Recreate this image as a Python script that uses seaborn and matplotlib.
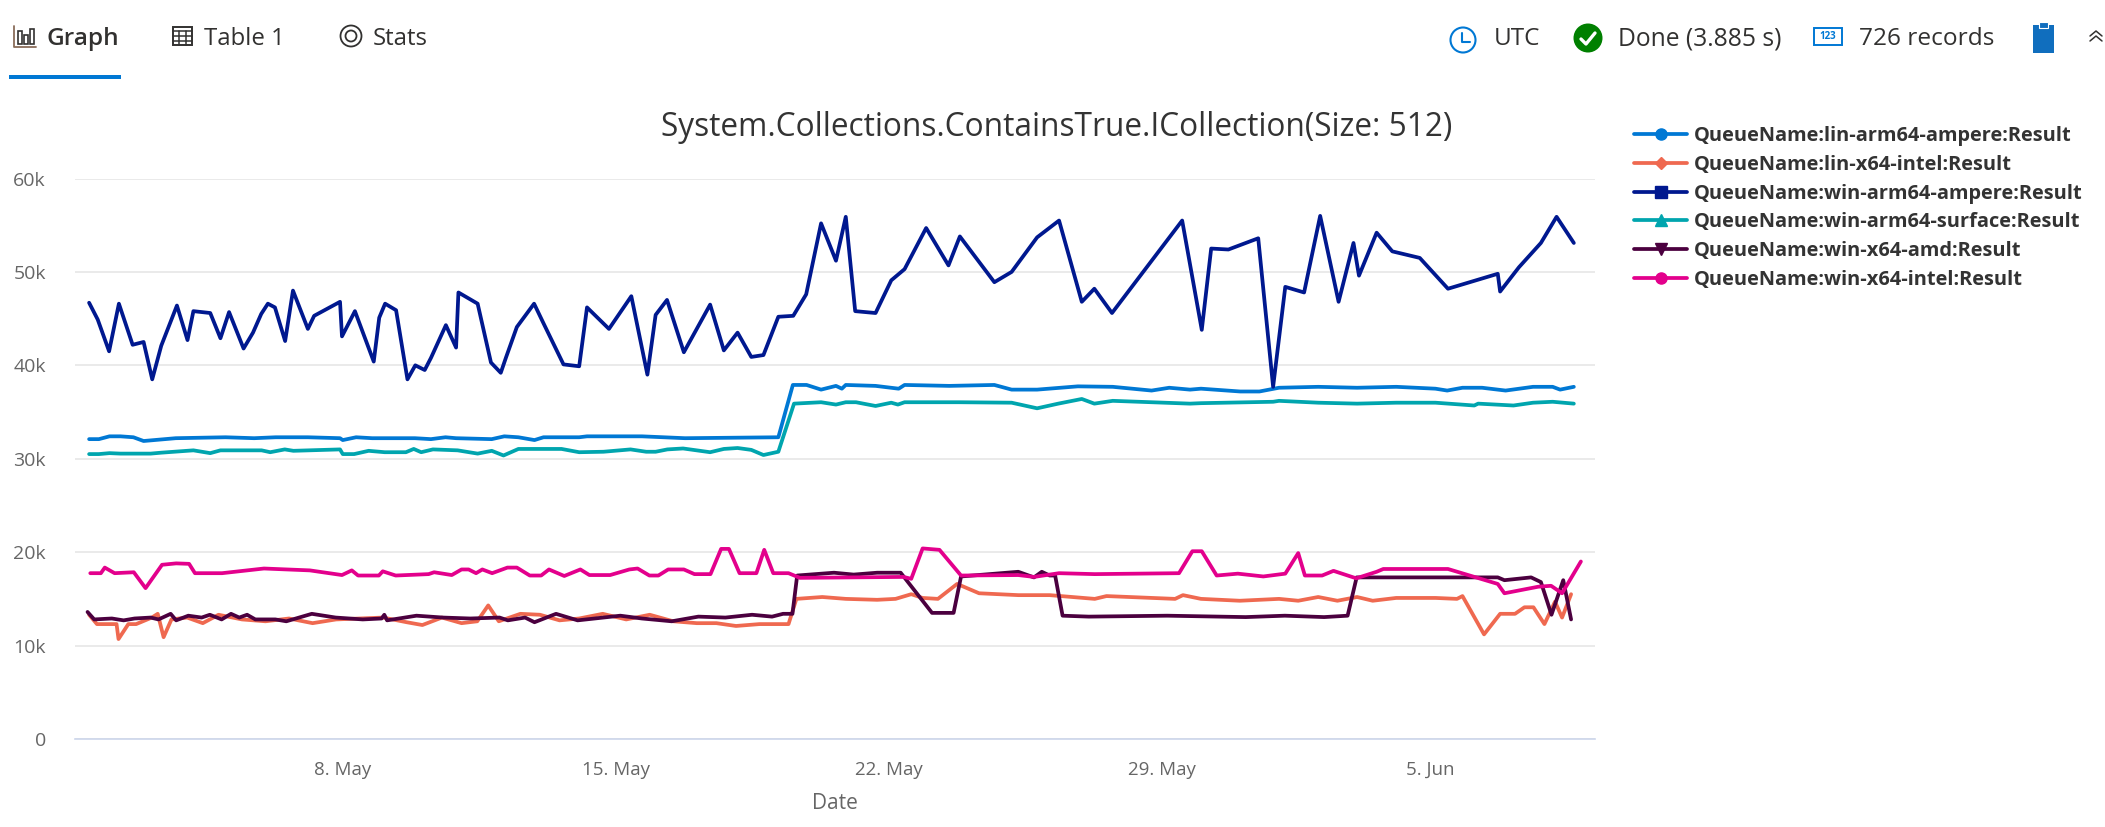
import pandas as pd
import matplotlib
matplotlib.use('Agg')
import matplotlib.pyplot as plt
from matplotlib.lines import Line2D
from matplotlib.patches import Circle, Rectangle
import seaborn as sns

# x values are day numbers counted from 1 May (32 = 1 Jun), y values in thousands
lin_arm_day = [1.5, 1.75, 2.02, 2.3, 2.63, 2.89, 3.71, 4.98, 5.71, 6.26, 7.08, 7.9, 7.97, 8.31, 8.72, 9.81, 10.22, 10.59, 10.86, 11.77, 12.09, 12.45, 12.86, 13.09, 14.0, 14.2, 15.6, 16.7, 19.08, 19.45, 19.8, 20.17, 20.55, 20.7, 20.8, 21.56, 22.15, 22.3, 23.44, 24.59, 25.03, 25.68, 26.72, 27.61, 28.6, 29.05, 29.58, 29.86, 30.86, 31.35, 31.85, 32.85, 33.84, 34.84, 35.84, 36.14, 36.53, 37.03, 37.63, 38.33, 38.83, 39.02, 39.37]
lin_arm_val = [32.1, 32.1, 32.4, 32.4, 32.3, 31.9, 32.2, 32.3, 32.2, 32.3, 32.3, 32.2, 32.0, 32.3, 32.2, 32.2, 32.1, 32.3, 32.2, 32.1, 32.4, 32.3, 32.0, 32.3, 32.3, 32.4, 32.4, 32.2, 32.3, 37.9, 37.9, 37.4, 37.8, 37.5, 37.9, 37.8, 37.5, 37.9, 37.8, 37.9, 37.4, 37.4, 37.75, 37.7, 37.3, 37.6, 37.4, 37.5, 37.2, 37.2, 37.6, 37.7, 37.6, 37.7, 37.5, 37.3, 37.6, 37.6, 37.3, 37.7, 37.7, 37.4, 37.7]

lin_x64_day = [1.5, 1.7, 2.2, 2.25, 2.5, 2.7, 3.1, 3.25, 3.4, 3.6, 4.0, 4.4, 4.8, 5.4, 6.0, 6.6, 7.2, 7.8, 8.4, 9.0, 9.6, 10.0, 10.5, 11.0, 11.4, 11.68, 11.95, 12.5, 13.0, 13.5, 14.0, 14.6, 15.2, 15.8, 16.4, 17.0, 17.5, 18.0, 18.6, 19.34, 19.54, 20.2, 20.8, 21.6, 22.07, 22.47, 22.76, 23.15, 23.64, 24.2, 25.2, 26.0, 27.15, 27.45, 29.2, 29.4, 29.86, 30.85, 31.85, 32.34, 32.85, 33.34, 33.84, 34.24, 34.84, 35.84, 36.39, 36.53, 37.08, 37.49, 37.87, 38.11, 38.34, 38.62, 38.89, 39.07, 39.3]
lin_x64_val = [13.3, 12.3, 12.3, 10.7, 12.3, 12.3, 13.0, 13.4, 10.9, 12.8, 13.0, 12.4, 13.3, 12.8, 12.6, 12.9, 12.4, 12.8, 12.9, 13.0, 12.5, 12.2, 13.0, 12.4, 12.6, 14.3, 12.6, 13.4, 13.3, 12.7, 12.9, 13.4, 12.8, 13.3, 12.6, 12.4, 12.4, 12.1, 12.3, 12.3, 15.0, 15.2, 15.0, 14.9, 15.0, 15.5, 15.1, 15.0, 16.6, 15.6, 15.4, 15.4, 15.0, 15.3, 15.0, 15.4, 15.0, 14.8, 15.0, 14.8, 15.2, 14.8, 15.2, 14.8, 15.1, 15.1, 15.0, 15.3, 11.2, 13.4, 13.4, 14.1, 14.1, 12.3, 14.7, 13.0, 15.5]

win_arm_day = [1.5, 1.72, 2.01, 2.26, 2.61, 2.89, 3.11, 3.34, 3.74, 4.01, 4.16, 4.59, 4.85, 5.07, 5.44, 5.68, 5.89, 6.06, 6.24, 6.5, 6.7, 7.08, 7.24, 7.9, 7.95, 8.28, 8.76, 8.9, 9.05, 9.33, 9.62, 9.82, 10.06, 10.22, 10.6, 10.86, 10.92, 11.41, 11.75, 12.0, 12.13, 12.41, 12.85, 13.09, 13.6, 14.0, 14.2, 14.76, 15.33, 15.74, 15.95, 16.24, 16.67, 17.34, 17.69, 18.04, 18.39, 18.7, 19.08, 19.46, 19.79, 20.17, 20.55, 20.8, 21.04, 21.56, 21.96, 22.3, 22.85, 23.42, 23.71, 24.59, 25.03, 25.68, 26.24, 26.82, 27.14, 27.59, 29.38, 29.88, 30.12, 30.56, 31.32, 31.7, 32.01, 32.49, 32.9, 33.37, 33.75, 33.89, 34.34, 34.74, 35.44, 36.16, 37.43, 37.49, 37.97, 38.53, 38.93, 39.37]
win_arm_val = [46.7, 44.9, 41.5, 46.6, 42.2, 42.5, 38.5, 42.1, 46.4, 42.7, 45.8, 45.6, 42.9, 45.7, 41.8, 43.5, 45.5, 46.6, 46.2, 42.6, 48.0, 43.9, 45.3, 46.8, 43.1, 45.8, 40.4, 45.1, 46.6, 45.9, 38.5, 40.0, 39.5, 40.8, 44.3, 41.9, 47.8, 46.6, 40.3, 39.2, 40.8, 44.1, 46.6, 44.5, 40.1, 39.9, 46.2, 43.9, 47.4, 39.0, 45.4, 47.0, 41.4, 46.5, 41.6, 43.5, 40.9, 41.1, 45.2, 45.3, 47.6, 55.2, 51.2, 55.9, 45.8, 45.6, 49.1, 50.3, 54.7, 50.7, 53.8, 48.9, 50.0, 53.7, 55.5, 46.8, 48.2, 45.6, 55.5, 43.8, 52.5, 52.4, 53.6, 37.7, 48.4, 47.8, 56.0, 46.8, 53.1, 49.6, 54.2, 52.2, 51.5, 48.2, 49.8, 47.9, 50.5, 53.1, 55.9, 53.1]

surface_day = [1.5, 1.75, 2.02, 2.3, 3.07, 3.34, 4.16, 4.59, 4.85, 5.9, 6.12, 6.49, 6.71, 7.9, 7.97, 8.26, 8.63, 9.04, 9.58, 9.78, 9.97, 10.27, 10.9, 11.41, 11.77, 12.07, 12.45, 13.55, 14.0, 14.62, 15.31, 15.71, 15.95, 16.25, 16.65, 17.34, 17.69, 18.04, 18.39, 18.7, 19.08, 19.48, 20.17, 20.55, 20.8, 21.06, 21.56, 21.96, 22.13, 22.3, 23.69, 25.03, 25.68, 26.22, 26.82, 27.14, 27.61, 29.58, 29.86, 31.7, 31.85, 32.85, 33.84, 34.84, 35.84, 36.83, 36.93, 37.83, 38.33, 38.83, 39.37]
surface_val = [30.5, 30.5, 30.6, 30.55, 30.55, 30.65, 30.9, 30.6, 30.9, 30.9, 30.7, 31.0, 30.85, 31.0, 30.5, 30.5, 30.85, 30.7, 30.7, 31.05, 30.7, 31.0, 30.9, 30.55, 30.85, 30.35, 31.05, 31.05, 30.7, 30.75, 31.0, 30.75, 30.75, 31.0, 31.1, 30.7, 31.05, 31.15, 30.95, 30.4, 30.75, 35.9, 36.05, 35.8, 36.05, 36.05, 35.65, 36.0, 35.8, 36.05, 36.05, 36.0, 35.4, 35.9, 36.4, 35.9, 36.2, 35.9, 35.95, 36.1, 36.2, 36.0, 35.9, 36.0, 36.0, 35.7, 35.9, 35.7, 36.0, 36.1, 35.9]

amd_day = [1.46, 1.63, 2.08, 2.38, 2.66, 3.07, 3.27, 3.58, 3.72, 4.03, 4.37, 4.58, 4.88, 5.12, 5.33, 5.53, 5.74, 6.25, 6.53, 7.18, 7.79, 8.48, 8.96, 9.03, 9.1, 9.85, 10.53, 11.22, 11.97, 12.18, 12.62, 12.86, 13.41, 13.96, 15.05, 15.6, 16.36, 17.04, 17.73, 18.41, 18.92, 19.2, 19.44, 19.56, 20.5, 21.0, 21.6, 22.2, 23.0, 23.55, 23.74, 25.2, 25.6, 25.8, 26.0, 26.14, 26.33, 27.0, 29.0, 31.0, 32.0, 33.0, 33.6, 33.83, 37.43, 37.6, 38.28, 38.53, 38.8, 39.1, 39.3]
amd_val = [13.6, 12.8, 12.9, 12.7, 12.9, 13.0, 12.8, 13.4, 12.7, 13.2, 13.0, 13.3, 12.8, 13.4, 13.0, 13.3, 12.8, 12.8, 12.6, 13.4, 13.0, 12.8, 12.9, 13.3, 12.7, 13.2, 13.0, 12.9, 13.0, 12.7, 13.0, 12.5, 13.4, 12.7, 13.2, 12.9, 12.6, 13.1, 13.0, 13.3, 13.1, 13.4, 13.4, 17.5, 17.8, 17.6, 17.8, 17.8, 13.5, 13.5, 17.4, 17.9, 17.3, 17.9, 17.5, 17.5, 13.2, 13.1, 13.2, 13.05, 13.2, 13.05, 13.2, 17.3, 17.3, 17.0, 17.3, 16.8, 13.3, 17.0, 12.8]

intel_day = [1.53, 1.8, 1.9, 2.15, 2.64, 2.94, 3.36, 3.72, 4.05, 4.2, 4.89, 5.96, 7.13, 7.95, 8.2, 8.36, 8.89, 8.99, 9.32, 10.16, 10.3, 10.75, 11.0, 11.18, 11.37, 11.53, 11.78, 12.17, 12.41, 12.74, 13.03, 13.23, 13.62, 14.03, 14.26, 14.79, 15.28, 15.49, 15.79, 16.02, 16.27, 16.67, 16.94, 17.35, 17.62, 17.82, 18.09, 18.52, 18.72, 18.95, 19.34, 19.63, 22.27, 22.47, 22.76, 23.19, 23.74, 25.2, 25.6, 26.24, 27.15, 29.3, 29.64, 29.88, 30.26, 30.8, 31.45, 32.01, 32.34, 32.51, 32.95, 33.24, 33.82, 34.34, 34.51, 35.04, 36.16, 37.43, 37.6, 38.46, 38.79, 39.07, 39.55]
intel_val = [17.75, 17.75, 18.35, 17.75, 17.85, 16.15, 18.65, 18.8, 18.75, 17.75, 17.75, 18.25, 18.05, 17.55, 18.05, 17.5, 17.5, 17.95, 17.5, 17.65, 17.85, 17.55, 18.15, 18.15, 17.75, 18.15, 17.75, 18.35, 18.35, 17.5, 17.5, 18.15, 17.45, 18.15, 17.55, 17.55, 18.15, 18.25, 17.5, 17.5, 18.15, 18.15, 17.65, 17.65, 20.35, 20.35, 17.75, 17.75, 20.25, 17.75, 17.75, 17.25, 17.35, 17.15, 20.4, 20.25, 17.5, 17.55, 17.35, 17.75, 17.65, 17.75, 20.1, 20.1, 17.5, 17.7, 17.4, 17.7, 19.9, 17.5, 17.5, 18.0, 17.2, 17.9, 18.2, 18.2, 18.2, 16.6, 15.6, 16.3, 16.4, 15.6, 19.0]

series_names = ['QueueName:lin-arm64-ampere:Result', 'QueueName:lin-x64-intel:Result', 'QueueName:win-arm64-ampere:Result',
                'QueueName:win-arm64-surface:Result', 'QueueName:win-x64-amd:Result', 'QueueName:win-x64-intel:Result']
series_colors = ['#0078D4', '#EF6950', '#00188F', '#00A5AE', '#4B003F', '#E3008C']
series_markers = ['o', 'D', 's', '^', 'v', 'o']
y_ticks = [0, 10, 20, 30, 40, 50, 60]
y_tick_labels = ['0', '10k', '20k', '30k', '40k', '50k', '60k']
x_tick_days = [7.97, 14.95, 21.9, 28.86, 35.72]
x_tick_labels = ['8. May', '15. May', '22. May', '29. May', '5. Jun']

W, H = 2105, 827
TEXT = '#323130'

sns.set_theme(style='white')
plt.rcParams['font.family'] = ['Open Sans', 'DejaVu Sans']

# long table for seaborn
frames = []
all_days = [lin_arm_day, lin_x64_day, win_arm_day, surface_day, amd_day, intel_day]
all_vals = [lin_arm_val, lin_x64_val, win_arm_val, surface_val, amd_val, intel_val]
for name, days, vals in zip(series_names, all_days, all_vals):
    frames.append(pd.DataFrame({'day': days, 'value': vals, 'series': name}))
df = pd.concat(frames, ignore_index=True)
start = pd.Timestamp('2023-05-01')
df['Date'] = start + pd.to_timedelta(df['day'] - 1, unit='D')

fig = plt.figure(figsize=(W / 100, H / 100), dpi=100, facecolor='white')
ax = fig.add_axes([74.6 / W, 1 - 739 / H, (1595 - 74.6) / W, (739 - 178.5) / H])

sns.lineplot(data=df, x='Date', y='value', hue='series', hue_order=series_names,
             palette=series_colors, linewidth=2.7, estimator=None, sort=False,
             legend=False, ax=ax, zorder=3)

ax.set_xlim(start + pd.Timedelta(days=0.13), start + pd.Timedelta(days=38.91))
ax.set_ylim(0, 60)
ax.set_yticks(y_ticks)
ax.set_yticklabels(y_tick_labels, fontsize=14, color='#666666')
ax.set_xticks([start + pd.Timedelta(days=d - 1) for d in x_tick_days])
ax.set_xticklabels(x_tick_labels, fontsize=13.5, color='#666666')
ax.tick_params(axis='y', length=0, pad=20.6)
ax.tick_params(axis='x', length=7, width=1, color='#ccd6eb', pad=9)
ax.grid(axis='y', color='#e6e6e6', linewidth=1.2)
ax.set_axisbelow(True)
for side in ['top', 'right', 'left']:
    ax.spines[side].set_visible(False)
ax.spines['bottom'].set_color('#ccd6eb')
ax.spines['bottom'].set_linewidth(1.2)
ax.set_xlabel('Date', fontsize=15, color='#666666', labelpad=10)
ax.set_ylabel('')
fig.text(1057 / W, 1 - 128 / H, 'System.Collections.ContainsTrue.ICollection(Size: 512)',
         fontsize=22.8, color='#333333', ha='center', va='center')

# legend
handles = [Line2D([], [], color=c, marker=m, markersize=8 if m != 'D' else 6.5, linewidth=2.7)
           for c, m in zip(series_colors, series_markers)]
fig.legend(handles, series_names, loc='upper left', bbox_to_anchor=(1634 / W, 1 - 126 / H),
           frameon=False, prop={'size': 14.4, 'weight': 'bold'}, labelcolor='#333333',
           handlelength=2.65, handletextpad=0.36, labelspacing=0.44, borderpad=0, borderaxespad=0)

# toolbar above the chart, drawn in pixel coordinates
bar = fig.add_axes([0, 0, 1, 1], zorder=5)
bar.set_xlim(0, W)
bar.set_ylim(H, 0)
bar.axis('off')
bar.patch.set_alpha(0)

# tabs
bar.text(46, 39, 'Graph', fontsize=17.6, fontweight='semibold', color=TEXT, va='center')
bar.text(204, 39, 'Table 1', fontsize=17.3, color=TEXT, va='center')
bar.text(373, 39, 'Stats', fontsize=17.3, color=TEXT, va='center')
bar.add_patch(Rectangle((9, 75), 112, 3.5, color='#0078D4', lw=0))

# graph icon
bar.plot([14, 14, 36], [26, 47, 47], color='#8a6d5a', lw=1.3)
for x0, top in [(18, 31), (24, 35), (30, 29)]:
    bar.add_patch(Rectangle((x0, top), 3.5, 44 - top, fill=False, ec=TEXT, lw=1.2))
# table icon
bar.add_patch(Rectangle((173, 27), 19, 18, fill=False, ec=TEXT, lw=1.4))
for yy in [31, 36, 41]:
    bar.plot([173, 192], [yy, yy], color=TEXT, lw=1.1)
for xx in [179, 186]:
    bar.plot([xx, xx], [31, 45], color=TEXT, lw=1.1)
# stats icon
bar.add_patch(Circle((351, 36), 10.5, fill=False, ec=TEXT, lw=1.3))
bar.add_patch(Circle((351, 36), 5.5, fill=False, ec=TEXT, lw=1.3))

# status items on the right
bar.add_patch(Circle((1463, 40), 12.5, fill=False, ec='#0078D4', lw=1.5))
bar.plot([1462, 1462, 1470], [33, 42, 42], color='#0078D4', lw=1.5)
bar.text(1494, 39, 'UTC', fontsize=17.5, color=TEXT, va='center')
bar.add_patch(Circle((1588, 38), 14.5, color='#008000', lw=0))
bar.plot([1581, 1586, 1595], [39, 44, 33], color='white', lw=2.4)
bar.text(1618, 39, 'Done (3.885 s)', fontsize=17.7, color=TEXT, va='center')
bar.add_patch(Rectangle((1814, 28), 28, 17, fill=False, ec='#0078D4', lw=1.4))
bar.text(1828, 36.5, '123', fontsize=7, fontweight='bold', color='#0078D4', ha='center', va='center')
bar.text(1859, 39, '726 records', fontsize=17.6, color=TEXT, va='center')
bar.add_patch(Rectangle((2033, 25), 21, 28, color='#106EBE', lw=0))
bar.add_patch(Rectangle((2039, 22), 9, 6, color='#106EBE', ec='white', lw=0.8))
bar.plot([2090, 2096, 2102], [36, 31, 36], color=TEXT, lw=1.1)
bar.plot([2090, 2096, 2102], [41, 36, 41], color=TEXT, lw=1.1)

fig.savefig('out.png', dpi=100)
plt.close(fig)
